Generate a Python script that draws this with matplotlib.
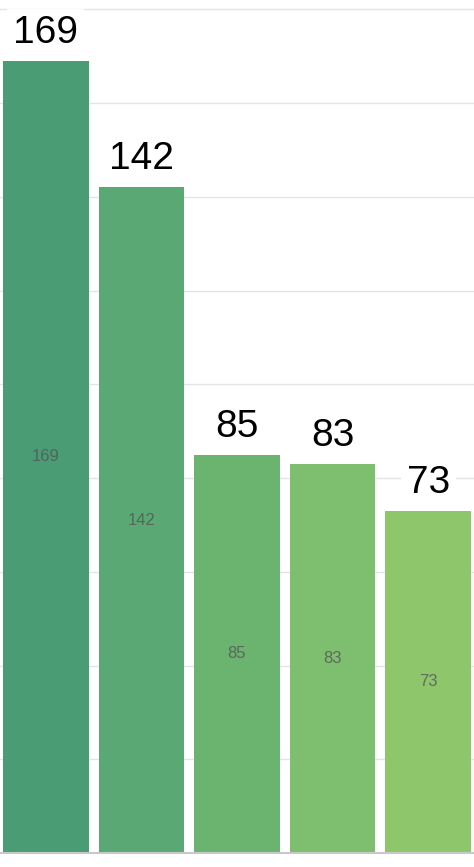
import matplotlib.pyplot as plt

categories = ["A", "B", "C", "D", "E"]
values = [169, 142, 85, 83, 73]
colors = ["#4a9c74", "#5aa974", "#6bb46f", "#7dbf6f", "#8ec66b"]
grid_ticks = list(range(0, 181, 20))

plt.rcParams['font.family'] = ['Liberation Sans', 'DejaVu Sans']

fig = plt.figure(figsize=(4.74, 8.67), dpi=100)
ax = fig.add_axes([0, 14 / 867, 1, 853 / 867])

xs = range(len(values))
ax.bar(xs, values, width=0.894, color=colors, zorder=2)

ax.set_xlim(-0.479, 4.479)
ax.set_ylim(0, 182)
ax.set_yticks(grid_ticks)
ax.yaxis.grid(True, color="#e4e4e4", linewidth=1, zorder=0)
ax.set_axisbelow(True)
ax.tick_params(left=False, bottom=False, labelleft=False, labelbottom=False)
for side in ["top", "left", "right"]:
    ax.spines[side].set_visible(False)
ax.spines["bottom"].set_color("#c8c8c8")
ax.spines["bottom"].set_linewidth(1.5)

for x, v in zip(xs, values):
    # big label above the bar
    ax.annotate(str(v), xy=(x, v), xytext=(0, 13), textcoords="offset points",
                ha="center", va="baseline", fontsize=28, color="black",
                bbox=dict(boxstyle="square,pad=0.15", fc="white", ec="none"),
                zorder=3)
    # small label in the middle of the bar
    ax.text(x, v / 2, str(v), ha="center", va="center", fontsize=12,
            color="#555555", alpha=0.8, zorder=3)

fig.savefig("out.png", dpi=100)
